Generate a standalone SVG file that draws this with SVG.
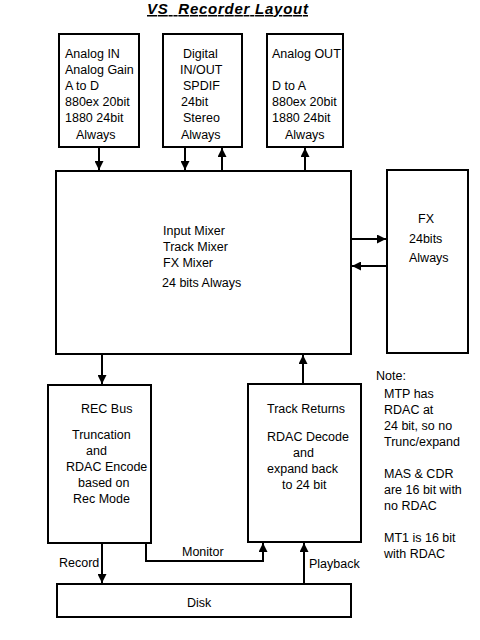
<svg xmlns="http://www.w3.org/2000/svg" width="480" height="640" viewBox="0 0 480 640">
<style>
.box{fill:#fff;stroke:#000;stroke-width:2}
.ln{fill:none;stroke:#000;stroke-width:2}
text{font-family:"Liberation Sans",Arial,sans-serif;font-size:12.5px;fill:#000}
.title{font-size:15px;font-weight:bold;font-style:italic;text-decoration:underline}
</style>
<defs>
<marker id="ah" markerUnits="userSpaceOnUse" markerWidth="9" markerHeight="9" refX="9" refY="4.5" orient="auto">
<path d="M0,0 L9,4.5 L0,9 z" fill="#000"/>
</marker>
</defs>
<rect width="480" height="640" fill="#fff"/>
<text class="title" x="147" y="14" textLength="161" lengthAdjust="spacing" xml:space="preserve">VS  Recorder Layout</text>

<g id="analog-in">
<rect class="box" x="59" y="34" width="80" height="113"/>
<text x="65" y="58">Analog IN</text>
<text x="65" y="74">Analog Gain</text>
<text x="65" y="90">A to D</text>
<text x="65" y="106">880ex 20bit</text>
<text x="65" y="122">1880 24bit</text>
<text x="76" y="139">Always</text>
</g>
<g id="digital">
<rect class="box" x="163" y="34" width="79" height="113"/>
<text x="183" y="58">Digital</text>
<text x="180" y="74">IN/OUT</text>
<text x="183" y="90">SPDIF</text>
<text x="181" y="106">24bit</text>
<text x="183" y="122">Stereo</text>
<text x="181" y="139">Always</text>
</g>
<g id="analog-out">
<rect class="box" x="267" y="34" width="76" height="113"/>
<text x="272" y="58">Analog OUT</text>
<text x="272" y="90">D to A</text>
<text x="272" y="106">880ex 20bit</text>
<text x="272" y="122">1880 24bit</text>
<text x="285" y="139">Always</text>
</g>
<g id="mixer">
<rect class="box" x="56" y="171" width="295" height="183"/>
<text x="163" y="235">Input Mixer</text>
<text x="163" y="251">Track Mixer</text>
<text x="163" y="267">FX Mixer</text>
<text x="162" y="287">24 bits Always</text>
</g>
<g id="fx">
<rect class="box" x="387" y="170" width="81" height="183"/>
<text x="418" y="223">FX</text>
<text x="409" y="243">24bits</text>
<text x="409" y="262">Always</text>
</g>
<g id="rec-bus">
<rect class="box" x="48" y="385" width="103" height="158"/>
<text x="81" y="413">REC Bus</text>
<text x="72" y="439">Truncation</text>
<text x="86" y="455">and</text>
<text x="66" y="471">RDAC Encode</text>
<text x="78" y="487">based on</text>
<text x="73" y="503">Rec Mode</text>
</g>
<g id="track-returns">
<rect class="box" x="248" y="384" width="113" height="158"/>
<text x="267" y="413">Track Returns</text>
<text x="267" y="441">RDAC Decode</text>
<text x="293" y="457">and</text>
<text x="267" y="473">expand back</text>
<text x="282" y="489">to 24 bit</text>
</g>
<g id="disk">
<rect class="box" x="57" y="584" width="294" height="33"/>
<text x="187" y="607">Disk</text>
</g>
<g id="note">
<text x="376" y="380">Note:</text>
<text x="384" y="398">MTP has</text>
<text x="384" y="414">RDAC at</text>
<text x="384" y="430">24 bit, so no</text>
<text x="384" y="446">Trunc/expand</text>
<text x="384" y="478">MAS &amp; CDR</text>
<text x="384" y="494">are 16 bit with</text>
<text x="384" y="510">no RDAC</text>
<text x="384" y="542">MT1 is 16 bit</text>
<text x="384" y="558">with RDAC</text>
</g>
<g id="connectors">
<line class="ln" x1="99" y1="147" x2="99" y2="170" marker-end="url(#ah)"/>
<line class="ln" x1="185" y1="147" x2="185" y2="170" marker-end="url(#ah)"/>
<line class="ln" x1="222" y1="171" x2="222" y2="148" marker-end="url(#ah)"/>
<line class="ln" x1="305" y1="171" x2="305" y2="148" marker-end="url(#ah)"/>
<line class="ln" x1="351" y1="239" x2="386" y2="239" marker-end="url(#ah)"/>
<line class="ln" x1="387" y1="266" x2="352" y2="266" marker-end="url(#ah)"/>
<line class="ln" x1="102" y1="354" x2="102" y2="384" marker-end="url(#ah)"/>
<line class="ln" x1="303" y1="384" x2="303" y2="355" marker-end="url(#ah)"/>
<line class="ln" x1="102" y1="543" x2="102" y2="583" marker-end="url(#ah)"/>
<polyline class="ln" points="146,543 146,561 263,561 263,543" marker-end="url(#ah)"/>
<line class="ln" x1="304" y1="584" x2="304" y2="543" marker-end="url(#ah)"/>
<text x="59" y="567">Record</text>
<text x="182" y="556">Monitor</text>
<text x="309" y="568">Playback</text>
</g>
</svg>
